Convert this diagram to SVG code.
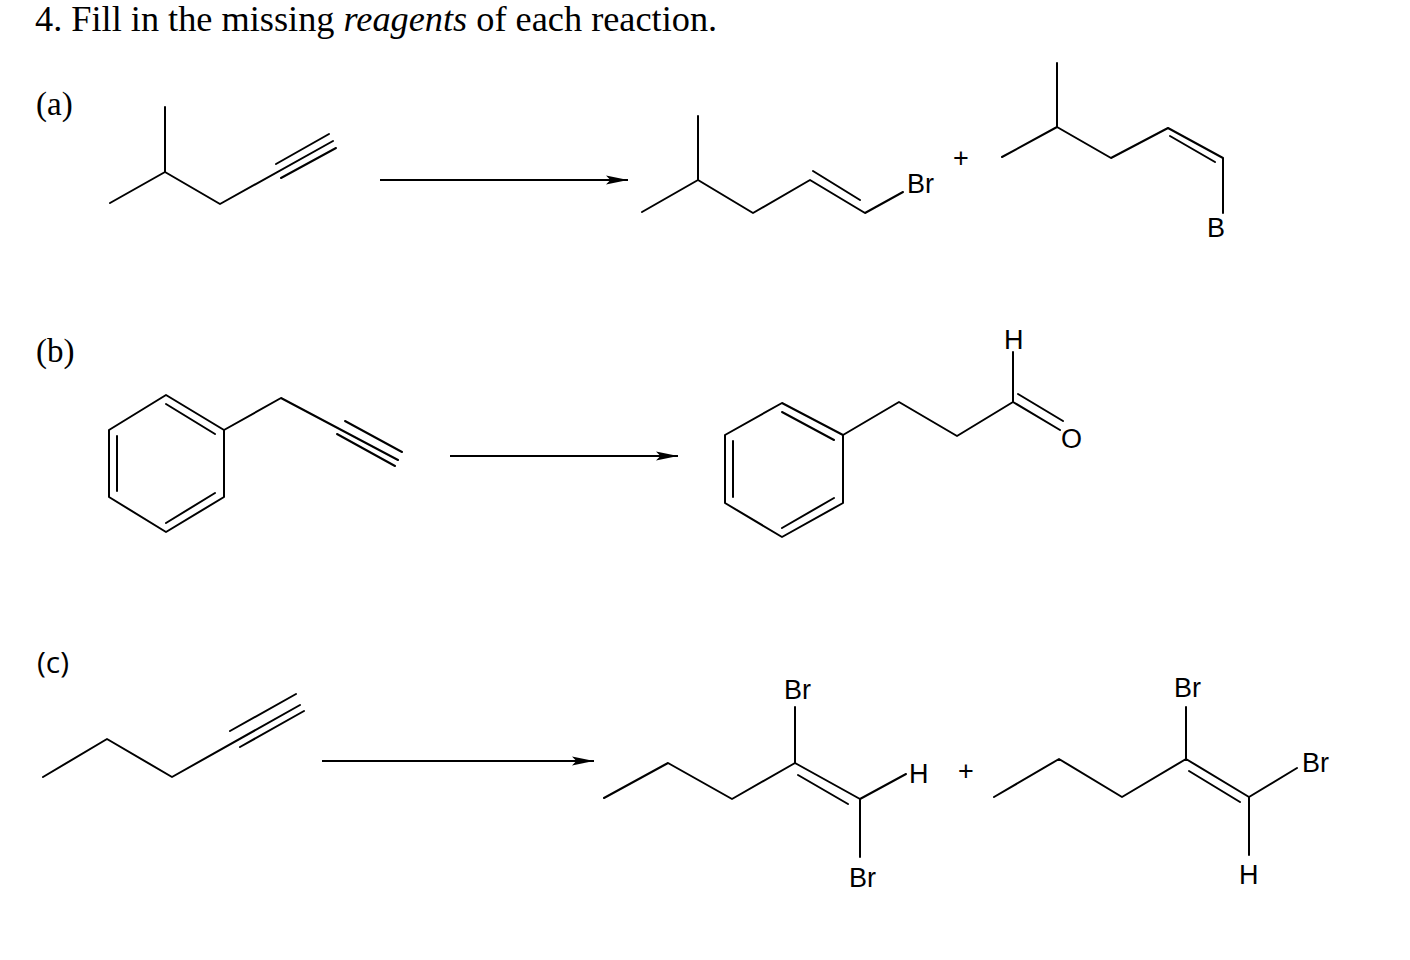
<svg xmlns="http://www.w3.org/2000/svg" width="1410" height="960" viewBox="0 0 1410 960">
<defs>
<style>
.b{stroke:#000;stroke-width:2;fill:none;stroke-linecap:round;stroke-linejoin:round}
.t{font-family:"Liberation Serif",serif;fill:#000}
.s{font-family:"Liberation Sans",Arial,sans-serif;font-size:27px;fill:#000}
</style>
<marker id="ah" viewBox="0 0 20 10" refX="20" refY="5" markerWidth="22" markerHeight="11" markerUnits="userSpaceOnUse" orient="auto"><path d="M0,1 L20,5 L0,9 L4,5 Z" fill="#000"/></marker>
</defs>
<rect width="1410" height="960" fill="#fff"/>
<text class="t" x="35" y="31" font-size="36.3">4. Fill in the missing <tspan font-style="italic">reagents</tspan> of each reaction.</text>
<text class="t" x="36" y="115" font-size="33">(a)</text>
<text class="t" x="36" y="362" font-size="33">(b)</text>
<text x="37" y="673" font-family="Open Sans,sans-serif" font-size="30">(c)</text>

<g id="a-reactant" class="b">
<polyline points="165,107 165,172 110,203"/><polyline points="165,172 220,204 333,141"/>
<line x1="276" y1="164" x2="329" y2="134"/><line x1="281" y1="178" x2="336" y2="148"/>
</g>
<g id="a-product1">
<g class="b"><polyline points="698,116 698,180 642,212"/><polyline points="698,180 753,213 810,180 865,213 903,192"/>
<line x1="813" y1="171" x2="860" y2="200"/></g>
<text class="s" x="907" y="193">Br</text>
<text class="s" x="953" y="167" font-size="23">+</text>
</g>
<g id="a-product2">
<g class="b"><polyline points="1057,63 1057,127 1002,157"/><polyline points="1057,127 1111,158 1168,128 1223,158 1223,213"/>
<line x1="1170" y1="136" x2="1215" y2="162"/></g>
<text class="s" x="1207" y="237" font-size="24">B</text>
</g>

<g id="b-reactant" class="b">
<polygon points="166,395 224,430 224,497 166,532 109,497 109,430"/>
<line x1="166" y1="404" x2="215" y2="434"/><line x1="117" y1="436" x2="117" y2="491"/><line x1="215" y1="493" x2="166" y2="523"/>
<polyline points="224,430 281,398 398,460"/>
<line x1="345" y1="421" x2="402" y2="452"/><line x1="337" y1="434" x2="395" y2="466"/>
</g>
<g id="b-product">
<g class="b"><polygon points="782,403 843,435 843,503 782,537 725,503 725,435"/>
<line x1="782" y1="412" x2="834" y2="440"/><line x1="733" y1="441" x2="733" y2="497"/><line x1="834" y1="498" x2="782" y2="528"/>
<polyline points="843,435 899,402 957,436 1013,402 1013,352"/><line x1="1013" y1="402" x2="1060" y2="430"/><line x1="1018" y1="394" x2="1063" y2="421"/></g>
<text class="s" x="1004" y="349">H</text>
<text class="s" x="1061" y="448">O</text>
</g>

<g id="c-reactant" class="b">
<polyline points="43,777 107,739 172,777 300,705"/>
<line x1="230" y1="731" x2="296" y2="694"/><line x1="240" y1="747" x2="304" y2="711"/>
</g>
<g id="c-product1">
<g class="b"><polyline points="604,798 668,763 732,799 795,763 860,799 906,774"/><line x1="795" y1="763" x2="795" y2="707"/><line x1="860" y1="799" x2="860" y2="857"/><line x1="798" y1="775" x2="848" y2="804"/></g>
<text class="s" x="784" y="699">Br</text>
<text class="s" x="909" y="783">H</text>
<text class="s" x="849" y="887">Br</text>
<text class="s" x="958" y="780" font-size="24">+</text>
</g>
<g id="c-product2">
<g class="b"><polyline points="994,797 1059,759 1122,797 1186,759 1249,797 1297,768"/><line x1="1186" y1="759" x2="1186" y2="707"/><line x1="1249" y1="797" x2="1249" y2="855"/><line x1="1189" y1="771" x2="1240" y2="802"/></g>
<text class="s" x="1174" y="697">Br</text>
<text class="s" x="1302" y="772">Br</text>
<text class="s" x="1239" y="884">H</text>
</g>

<g id="connectors" stroke="#000" stroke-width="2" fill="none">
<line x1="380" y1="180" x2="628" y2="180" marker-end="url(#ah)"/>
<line x1="450" y1="456" x2="678" y2="456" marker-end="url(#ah)"/>
<line x1="322" y1="761" x2="594" y2="761" marker-end="url(#ah)"/>
</g>
</svg>
